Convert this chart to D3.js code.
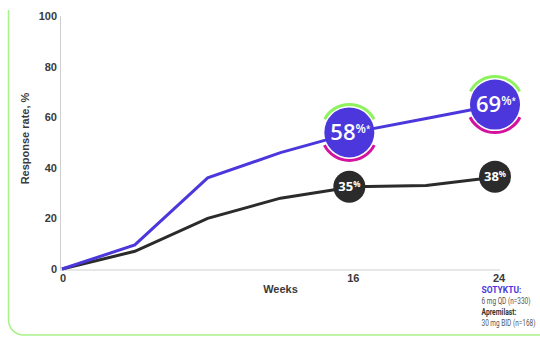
<!DOCTYPE html>
<html>
<head>
<meta charset="utf-8">
<script src="https://cdn.jsdelivr.net/npm/d3@7"></script>
<style>
  body { margin: 0; background: #fff; }
  svg { display: block; font-family: "Liberation Sans", Arial, sans-serif; }
</style>
</head>
<body>
<svg id="chart"></svg>
<script>
const weeks = [0, 4, 8, 12, 16, 20, 24];
const sotyktu = [0, 9.5, 36, 46, 54, 59.5, 65];
const apremilast = [0, 7, 20, 28, 32.5, 33, 36.5];
const yTicks = [0, 20, 40, 60, 80, 100];
const xTicks = [0, 16, 24];
const calloutWeeks = [16, 24];
const sotyktuLabels = ['58', '69'];
const apremilastLabels = ['35', '38'];
const legendLines = ['SOTYKTU:', '6 mg QD (n=330)', 'Apremilast:', '30 mg BID (n=168)'];

const W = 540, H = 358;
const svg = d3.select('#chart').attr('width', W).attr('height', H);

const x = d3.scaleLinear().domain([0, 24]).range([62, 499]);
const y = d3.scaleLinear().domain([0, 100]).range([269, 16]);

const purple = '#4b37dc';
const dark = '#2b2b2b';

// green frame
svg.append('path')
  .attr('d', 'M8.5,10 V320 A15,15 0 0 0 23.5,335 H545')
  .attr('fill', 'none')
  .attr('stroke', '#a8f28a')
  .attr('stroke-width', 1.5);

// axes
svg.append('line')
  .attr('x1', x(0) - 1.5).attr('x2', x(0) - 1.5)
  .attr('y1', y(100)).attr('y2', y(0) + 1)
  .attr('stroke', '#cfcfcf').attr('stroke-width', 1);
svg.append('line')
  .attr('x1', x(0) - 2).attr('x2', x(24) + 1)
  .attr('y1', y(0) + 1).attr('y2', y(0) + 1)
  .attr('stroke', '#cfcfcf').attr('stroke-width', 1);

svg.selectAll('.ytick').data(yTicks).join('text')
  .attr('class', 'ytick')
  .attr('x', 57)
  .attr('y', (d) => y(d) + 4)
  .attr('text-anchor', 'end')
  .style('font-size', '11px')
  .style('font-weight', 'bold')
  .style('fill', '#3a3a3a')
  .text((d) => d);

svg.selectAll('.xtick').data(xTicks).join('text')
  .attr('class', 'xtick')
  .attr('x', (d) => x(d) + (d === 0 ? 1 : 0))
  .attr('y', 282)
  .attr('text-anchor', 'middle')
  .style('font-size', '11px')
  .style('font-weight', 'bold')
  .style('fill', '#3a3a3a')
  .text((d) => d);

svg.append('text')
  .attr('x', x(12))
  .attr('y', 293)
  .attr('text-anchor', 'middle')
  .style('font-size', '11px')
  .style('font-weight', 'bold')
  .style('fill', '#3a3a3a')
  .text('Weeks');

svg.append('text')
  .attr('transform', `translate(29,${(y(0) + y(100)) / 2 - 4}) rotate(-90)`)
  .attr('text-anchor', 'middle')
  .style('font-size', '11px')
  .style('font-weight', 'bold')
  .style('fill', '#3a3a3a')
  .text('Response rate, %');

// lines
const line = d3.line()
  .x((d) => x(d[0]))
  .y((d) => y(d[1]));

svg.append('path')
  .datum(weeks.map((w, i) => [w, apremilast[i]]))
  .attr('fill', 'none')
  .attr('stroke', dark)
  .attr('stroke-width', 3)
  .attr('d', line);

svg.append('path')
  .datum(weeks.map((w, i) => [w, sotyktu[i]]))
  .attr('fill', 'none')
  .attr('stroke', purple)
  .attr('stroke-width', 3)
  .attr('d', line);

// callouts
const arc = d3.arc().innerRadius(26.5).outerRadius(29.5);

calloutWeeks.forEach((w, k) => {
  const i = weeks.indexOf(w);
  const cx = x(w) - 4;

  // apremilast bubble
  const ga = svg.append('g').attr('transform', `translate(${cx},${y(apremilast[i])})`);
  ga.append('circle').attr('r', 16).attr('fill', dark);
  const ta = ga.append('text')
    .attr('y', 4.5)
    .attr('text-anchor', 'middle')
    .style('font-family', '"Open Sans", sans-serif')
    .style('font-weight', 'bold')
    .style('fill', '#fff');
  ta.append('tspan').style('font-size', '13px').text(apremilastLabels[k]);
  ta.append('tspan').style('font-size', '8px').attr('dy', -4).text('%');

  // sotyktu bubble
  const gs = svg.append('g').attr('transform', `translate(${cx},${y(sotyktu[i])})`);
  gs.append('path')
    .attr('d', arc({ startAngle: -1.08, endAngle: 1.08 }))
    .attr('fill', '#8ef25f');
  gs.append('path')
    .attr('d', arc({ startAngle: Math.PI - 1.1, endAngle: Math.PI + 1.1 }))
    .attr('fill', '#d3139f');
  gs.append('circle').attr('r', 25).attr('fill', purple);
  const ts = gs.append('text')
    .attr('x', 1)
    .attr('y', 7.5)
    .attr('text-anchor', 'middle')
    .style('font-family', '"Open Sans", sans-serif')
    .style('font-weight', 600)
    .style('fill', '#fff');
  ts.append('tspan').style('font-size', '22px').text(sotyktuLabels[k]);
  ts.append('tspan').style('font-size', '12px').attr('dy', -7).text('%');
  ts.append('tspan').style('font-size', '8px').attr('dy', -1).text('*');
});

// legend (condensed by horizontal scaling)
const legendWidths = [40, 49, 35, 54];
legendLines.forEach((txt, i) => {
  const g = svg.append('g');
  const t = g.append('text')
    .style('font-family', '"Roboto", sans-serif')
    .style('font-size', '9px')
    .style('font-weight', i % 2 === 0 ? 'bold' : 'normal')
    .style('fill', i === 0 ? purple : i === 2 ? '#333' : '#555')
    .text(txt);
  const sx = legendWidths[i] / t.node().getComputedTextLength();
  g.attr('transform', `translate(481.5,${293 + i * 11}) scale(${sx},1)`);
});
</script>
</body>
</html>
